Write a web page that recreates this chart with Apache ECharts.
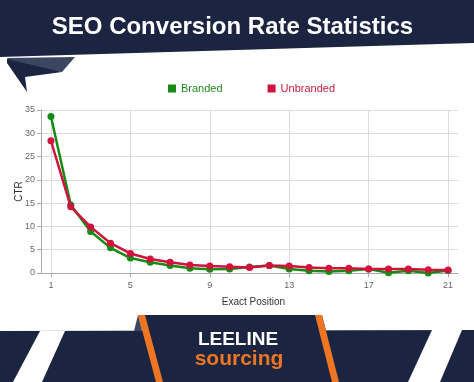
<!DOCTYPE html>
<html>
<head>
<meta charset="utf-8">
<script src="https://cdn.jsdelivr.net/npm/echarts@6/dist/echarts.min.js"></script>
<style>html,body{margin:0;padding:0;background:#fff;}#c{width:474px;height:382px;}</style>
</head>
<body>
<div id="c"></div>
<script>
const positions = [1,2,3,4,5,6,7,8,9,10,11,12,13,14,15,16,17,18,19,20,21];
const branded = [33.6,14.6,8.9,5.4,3.2,2.3,1.6,1.0,0.8,0.85,1.3,1.6,0.85,0.5,0.3,0.5,0.85,0.05,0.5,0.0,0.55];
const unbranded = [28.4,14.2,9.9,6.4,4.2,3.0,2.3,1.7,1.5,1.35,1.2,1.6,1.5,1.2,1.0,1.0,0.85,0.85,0.85,0.7,0.65];
const xTicks = [1,5,9,13,17,21];
const yTicks = [0,5,10,15,20,25,30,35];

const NAVY = '#1b2541', SLATE = '#3b4661', ORANGE = '#ee7623';
const FONT = '"Liberation Sans", Arial, sans-serif';

const chart = echarts.init(document.getElementById('c'), null, {renderer:'canvas'});
chart.setOption({
  animation:false,
  backgroundColor:'#fff',
  textStyle:{fontFamily:FONT},
  graphic:[
    {type:'polygon', z:-10, shape:{points:[[0,0],[474,0],[474,43],[0,57]]}, style:{fill:NAVY}},
    {type:'polygon', z:-10, shape:{points:[[7,58],[75,57],[62,72],[10,63]]}, style:{fill:SLATE}},
    {type:'polygon', z:-10, shape:{points:[[7,59],[62,72],[25,77],[27,92],[7,63]]}, style:{fill:NAVY}},
    {type:'text', z:10, x:232.5, y:27, style:{text:'SEO Conversion Rate Statistics', fill:'#fff', font:'bold 24px '+FONT, textAlign:'center', textVerticalAlign:'middle'}},
    {type:'polygon', z:-10, shape:{points:[[0,331],[474,330],[474,382],[0,382]]}, style:{fill:NAVY}},
    {type:'polygon', z:-9, shape:{points:[[40,331],[65,331],[42,382],[13,382]]}, style:{fill:'#fff'}},
    {type:'polygon', z:-9, shape:{points:[[432,330],[462,330],[440,382],[408,382]]}, style:{fill:'#fff'}},
    {type:'polygon', z:-9, shape:{points:[[134,331],[138,315],[142,331]]}, style:{fill:SLATE}},
    {type:'polygon', z:-8, shape:{points:[[138,315],[322,315],[339,382],[156,382]]}, style:{fill:NAVY}},
    {type:'polygon', z:-7, shape:{points:[[138,315],[145,315],[163,382],[156,382]]}, style:{fill:ORANGE}},
    {type:'polygon', z:-7, shape:{points:[[315,315],[322,315],[339,382],[332,382]]}, style:{fill:ORANGE}},
    {type:'text', z:10, x:238, y:340, style:{text:'LEELINE', fill:'#fff', font:'bold 19px '+FONT, textAlign:'center', textVerticalAlign:'middle'}},
    {type:'text', z:10, x:239, y:359, style:{text:'sourcing', fill:ORANGE, font:'bold 21px '+FONT, textAlign:'center', textVerticalAlign:'middle'}}
  ],
  legend:{
    left:163, top:78, itemWidth:8, itemHeight:8, itemGap:45, icon:'rect',
    textStyle:{fontSize:11, fontFamily:FONT},
    data:[
      {name:'Branded', textStyle:{color:'#1e8c1e'}},
      {name:'Unbranded', textStyle:{color:'#c8163e'}}
    ]
  },
  grid:{left:41, right:16, top:110, bottom:109},
  xAxis:{
    type:'value', min:0.5, max:21.5,
    name:'Exact Position', nameLocation:'middle', nameGap:24,
    nameTextStyle:{color:'#333', fontSize:10, padding:[0,0,0,8]},
    axisLine:{show:true, lineStyle:{color:'#aaa'}},
    axisTick:{show:true, length:4, customValues:xTicks, lineStyle:{color:'#aaa'}},
    axisLabel:{customValues:xTicks, color:'#666', fontSize:9, margin:8},
    splitLine:{show:true, lineStyle:{color:'#dcdcdc'}}
  },
  yAxis:{
    type:'value', min:0, max:35, interval:5,
    name:'CTR', nameLocation:'middle', nameGap:17, nameRotate:90, nameMoveOverlap:false,
    nameTextStyle:{color:'#333', fontSize:10},
    axisLine:{show:true, lineStyle:{color:'#aaa'}},
    axisTick:{show:true, length:4, lineStyle:{color:'#aaa'}},
    axisLabel:{color:'#666', fontSize:9, margin:6},
    splitLine:{show:true, lineStyle:{color:'#dcdcdc'}}
  },
  series:[
    {name:'Branded', type:'line', data:positions.map((p,i)=>[p,branded[i]]),
     color:'#148c14', symbol:'circle', symbolSize:7, lineStyle:{width:2.5}, z:2},
    {name:'Unbranded', type:'line', data:positions.map((p,i)=>[p,unbranded[i]]),
     color:'#d0123c', symbol:'circle', symbolSize:7, lineStyle:{width:2.5}, z:3}
  ]
});
</script>
</body>
</html>
